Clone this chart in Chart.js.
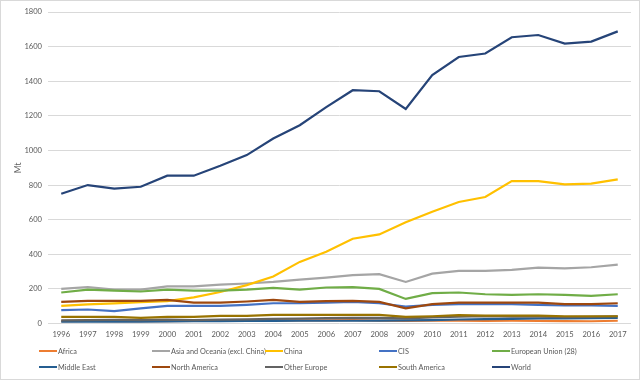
<!DOCTYPE html>
<html>
<head>
<meta charset="utf-8">
<script src="https://cdn.jsdelivr.net/npm/chart.js@4/dist/chart.umd.min.js"></script>
<style>
  html, body { margin: 0; padding: 0; background: #fff; }
  #wrap { position: relative; width: 640px; height: 380px; box-sizing: border-box; border: 1px solid #d9d9d9; }
  #c { position: absolute; left: 0; top: 0; }
  .lg { position: absolute; font-family: Lato, "Liberation Sans", Arial, sans-serif; font-size: 7.3px; color: #595959; white-space: nowrap; line-height: 10px; }
  .lg span.sw { display: inline-block; width: 18px; height: 2px; vertical-align: middle; margin-right: 1px; position: relative; top: -1px; }
</style>
</head>
<body>
<div id="wrap">
  <canvas id="c" width="638" height="378"></canvas>
  <div id="legend"></div>
</div>
<script>
const years = ["1996","1997","1998","1999","2000","2001","2002","2003","2004","2005","2006","2007","2008","2009","2010","2011","2012","2013","2014","2015","2016","2017"];
const seriesNames = ["Africa","Asia and Oceania (excl. China)","China","CIS","European Union (28)","Middle East","North America","Other Europe","South America","World"];
const seriesColors = ["#ED7D31","#A5A5A5","#FFC000","#4472C4","#70AD47","#255E91","#9E480E","#636363","#997300","#264478"];
const yTicks = [0,200,400,600,800,1000,1200,1400,1600,1800];

const africa      = [14,15,13,13,14,15,16,17,17,18,18,19,17,15,17,16,15,16,15,14,13,16];
const asiaOceania = [200,211,196,196,215,215,225,231,240,254,265,279,285,240,288,304,304,310,323,319,325,340];
const china       = [102,111,116,124,129,151,182,222,272,356,415,490,515,585,646,702,731,823,823,804,808,833];
const cis         = [77,81,71,87,102,102,102,108,117,117,121,125,117,98,108,112,112,112,108,104,104,102];
const eu28        = [179,196,190,185,196,190,190,196,206,196,208,210,200,142,175,179,169,165,169,165,160,169];
const middleEast  = [10,11,11,11,12,13,14,15,15,16,16,16,17,18,20,23,25,27,29,29,31,33];
const northAmerica= [125,131,131,131,136,121,121,127,136,125,129,131,125,88,112,121,121,121,121,112,112,117];
const otherEurope = [18,20,21,19,22,20,22,24,27,28,31,32,32,30,35,40,42,40,40,37,38,42];
const southAmerica= [38,38,38,33,38,38,44,44,50,50,50,50,50,38,42,48,46,46,46,42,42,42];
const world       = [750,800,779,790,854,854,911,973,1069,1146,1250,1348,1342,1240,1435,1540,1560,1654,1667,1617,1629,1688];

const seriesValues = [africa, asiaOceania, china, cis, eu28, middleEast, northAmerica, otherEurope, southAmerica, world];

const datasets = seriesNames.map((name, i) => ({
  label: name,
  data: seriesValues[i],
  borderColor: seriesColors[i],
  backgroundColor: seriesColors[i],
  borderWidth: 2.2,
  pointRadius: 0,
  tension: 0,
  fill: false,
  order: 10 - i
}));

const tickFont = { family: "Lato, 'Liberation Sans', Arial, sans-serif", size: 7.6 };

new Chart(document.getElementById('c'), {
  type: 'line',
  data: { labels: years, datasets },
  options: {
    responsive: false,
    animation: false,
    events: [],
    layout: { padding: { left: 0, right: 8, top: 11, bottom: 0 } },
    plugins: { legend: { display: false }, tooltip: { enabled: false } },
    scales: {
      x: {
        offset: true,
        grid: { display: false, drawTicks: false },
        border: { display: false },
        ticks: { color: '#595959', font: tickFont, padding: 6, maxRotation: 0, autoSkip: false },
        afterFit: (s) => { s.height = 55.5; }
      },
      y: {
        min: 0, max: 1800,
        afterBuildTicks: (s) => { s.ticks = yTicks.map(v => ({ value: v })); },
        grid: { color: '#d9d9d9', lineWidth: 1, drawTicks: false },
        border: { display: false },
        ticks: { color: '#595959', font: tickFont, padding: 6, callback: (v) => String(v) },
        title: { display: true, text: 'Mt', color: '#595959', font: { family: "Lato, 'Liberation Sans', Arial, sans-serif", size: 8.5 }, padding: { top: 12, bottom: 0 } },
        afterFit: (s) => { s.width = 47; }
      }
    }
  }
});

// HTML legend (5 columns x 2 rows)
const colX = [38, 151, 264, 378, 491];
const rowY = [346, 362];
const lg = document.getElementById('legend');
seriesNames.forEach((name, i) => {
  const d = document.createElement('div');
  d.className = 'lg';
  d.style.left = colX[i % 5] + 'px';
  d.style.top = rowY[Math.floor(i / 5)] + 'px';
  const sw = document.createElement('span');
  sw.className = 'sw';
  sw.style.background = seriesColors[i];
  d.appendChild(sw);
  d.appendChild(document.createTextNode(name));
  lg.appendChild(d);
});
</script>
</body>
</html>
